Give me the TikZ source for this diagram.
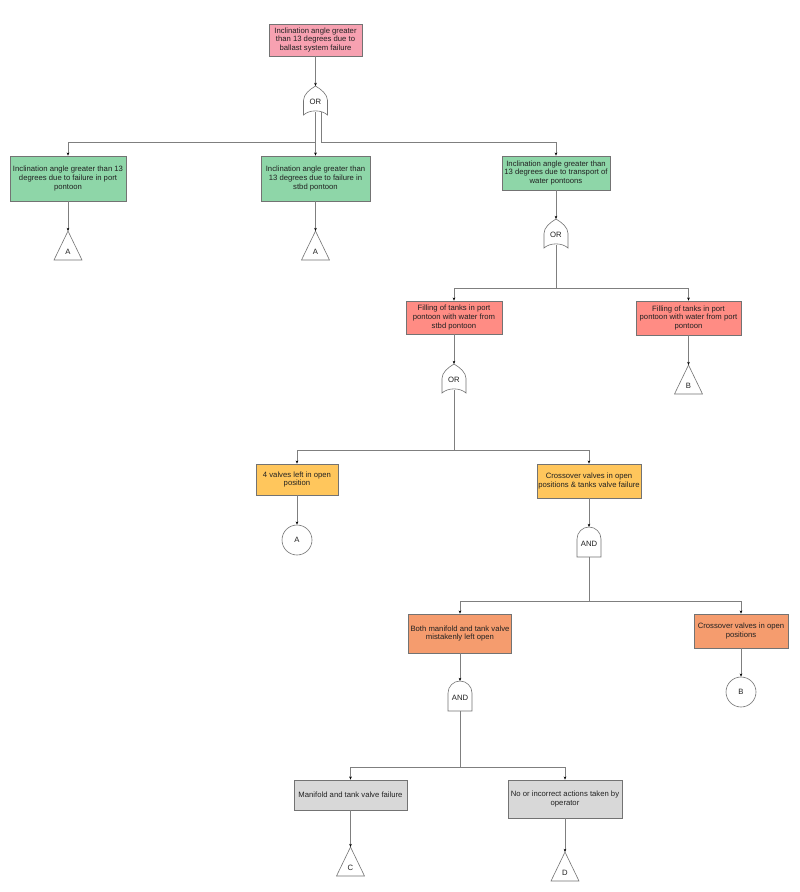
\documentclass[tikz,border=0pt]{standalone}
\usepackage{fontspec}
\setmainfont{Liberation Sans}
\usetikzlibrary{arrows.meta}
\definecolor{cpink}{HTML}{F7A1B1}
\definecolor{cgreen}{HTML}{8ED6A8}
\definecolor{cred}{HTML}{FF8C84}
\definecolor{corange}{HTML}{FFC65C}
\definecolor{csalmon}{HTML}{F59C6E}
\definecolor{cgray}{HTML}{D8D8D8}
\definecolor{ctext}{HTML}{222222}
\definecolor{cline}{HTML}{7F7F7F}
\begin{document}
\begin{tikzpicture}[x=1pt,y=-1pt,
  lbl/.style={font=\fontsize{7.7}{8.9}\selectfont, text=ctext},
  box/.style={lbl, draw=black!55, line width=0.6pt, align=center, inner sep=1pt},
  conn/.style={draw=cline, line width=0.7pt},
  arr/.style={conn, -{Stealth[length=3.2pt,width=2.6pt,black]}},
  gateline/.style={draw=black!55, line width=0.6pt, fill=white},
  orgate/.pic={
    \draw[gateline] (0,-14.5) .. controls (-6,-11) and (-12,-6) .. (-12,0) -- (-12,14.5)
      .. controls (-6,9) and (6,9) .. (12,14.5) -- (12,0)
      .. controls (12,-6) and (6,-11) .. (0,-14.5) -- cycle;
    \node[lbl] (-t) at (0,1) {OR};
    \coordinate (-in) at (0,-14.5);
    \coordinate (-out) at (0,11.5);
  },
  andgate/.pic={
    \draw[gateline] (-12,15) -- (-12,-3) .. controls (-12,-9.6) and (-6.6,-15) .. (0,-15)
      .. controls (6.6,-15) and (12,-9.6) .. (12,-3) -- (12,15) -- cycle;
    \node[lbl] (-t) at (0,1.5) {AND};
    \coordinate (-in) at (0,-15);
    \coordinate (-out) at (0,15);
  },
  trans/.pic={
    \draw[gateline] (0,-14.5) -- (14,14.5) -- (-14,14.5) -- cycle;
    \node[lbl] (-l) at (0,6.5) {#1};
    \coordinate (-top) at (0,-14.5);
  },
  circ/.style={lbl, draw=black!55, line width=0.6pt, circle, minimum size=30pt, inner sep=0pt}
]
\useasboundingbox (0,0) rectangle (800,892);
\fill[white] (0,0) rectangle (800,892);

% boxes
\node[box, fill=cpink, minimum width=93pt, minimum height=32pt] (b1) at (315.5,40)
  {Inclination angle greater\\than 13 degrees due to\\ballast system failure};
\node[box, fill=cgreen, minimum width=116pt, minimum height=45pt] (b2) at (68,178.5)
  {Inclination angle greater than 13\\degrees due to failure in port\\pontoon};
\node[box, fill=cgreen, minimum width=109pt, minimum height=45pt] (b3) at (315.5,178.5)
  {Inclination angle greater than\\13 degrees due to failure in\\stbd pontoon};
\node[box, fill=cgreen, minimum width=108pt, minimum height=34pt] (b4) at (556,173)
  {Inclination angle greater than\\13 degrees due to transport of\\water pontoons};
\node[box, fill=cred, minimum width=96pt, minimum height=33pt] (b5) at (454,317.5)
  {Filling of tanks in port\\pontoon with water from\\stbd pontoon};
\node[box, fill=cred, minimum width=105pt, minimum height=34pt] (b6) at (688.5,318)
  {Filling of tanks in port\\pontoon with water from port\\pontoon};
\node[box, fill=corange, minimum width=82pt, minimum height=31pt] (b7) at (297,479.5)
  {4 valves left in open\\position};
\node[box, fill=corange, minimum width=104pt, minimum height=34pt] (b8) at (589,481)
  {Crossover valves in open\\positions \& tanks valve failure};
\node[box, fill=csalmon, minimum width=103pt, minimum height=39pt] (b9) at (460,633.5)
  {Both manifold and tank valve\\mistakenly left open};
\node[box, fill=csalmon, minimum width=94pt, minimum height=34pt] (b10) at (741,631)
  {Crossover valves in open\\positions};
\node[box, fill=cgray, minimum width=113pt, minimum height=30pt] (b11) at (350.5,795)
  {Manifold and tank valve failure};
\node[box, fill=cgray, minimum width=114pt, minimum height=38pt] (b12) at (565,799)
  {No or incorrect actions taken by\\operator};

% gates
\pic (g1) at (315.5,100.5) {orgate};
\pic (g2) at (556,233.5) {orgate};
\pic (g3) at (454,378.5) {orgate};
\pic (g4) at (589,542) {andgate};
\pic (g5) at (460,696) {andgate};

% transfer symbols
\pic (t1) at (68,245.5) {trans=A};
\pic (t2) at (315.5,245.5) {trans=A};
\pic (tB) at (688.5,379.5) {trans=B};
\pic (tC) at (350.5,861.5) {trans=C};
\pic (tD) at (565,866.5) {trans=D};
\node[circ] (cA) at (297,540) {A};
\node[circ] (cB) at (741,692) {B};

% junctions
\coordinate (j1l) at (315.5,142);
\coordinate (j1r) at (321.5,142);
\coordinate (j2) at (556,288);
\coordinate (j3) at (454,450);
\coordinate (j4) at (589,601);
\coordinate (j5) at (460,767);

% connectors
\draw[arr] (b1.south) -- (g1-in);
\draw[arr] (g1-out) -- (b3.north);
\draw[arr] (j1l) -| (b2.north);
\draw[arr] ([xshift=6pt]g1-out) -- (j1r) -| (b4.north);
\draw[arr] (b2.south) -- (t1-top);
\draw[arr] (b3.south) -- (t2-top);

\draw[arr] (b4.south) -- (g2-in);
\draw[conn] (g2-out) -- (j2);
\draw[arr] (j2) -| (b5.north);
\draw[arr] (j2) -| (b6.north);
\draw[arr] (b6.south) -- (tB-top);

\draw[arr] (b5.south) -- (g3-in);
\draw[conn] (g3-out) -- (j3);
\draw[arr] (j3) -| (b7.north);
\draw[arr] (j3) -| (b8.north);
\draw[arr] (b7.south) -- (cA.north);

\draw[arr] (b8.south) -- (g4-in);
\draw[conn] (g4-out) -- (j4);
\draw[arr] (j4) -| (b9.north);
\draw[arr] (j4) -| (b10.north);
\draw[arr] (b10.south) -- (cB.north);

\draw[arr] (b9.south) -- (g5-in);
\draw[conn] (g5-out) -- (j5);
\draw[arr] (j5) -| (b11.north);
\draw[arr] (j5) -| (b12.north);
\draw[arr] (b11.south) -- (tC-top);
\draw[arr] (b12.south) -- (tD-top);
\end{tikzpicture}
\end{document}
